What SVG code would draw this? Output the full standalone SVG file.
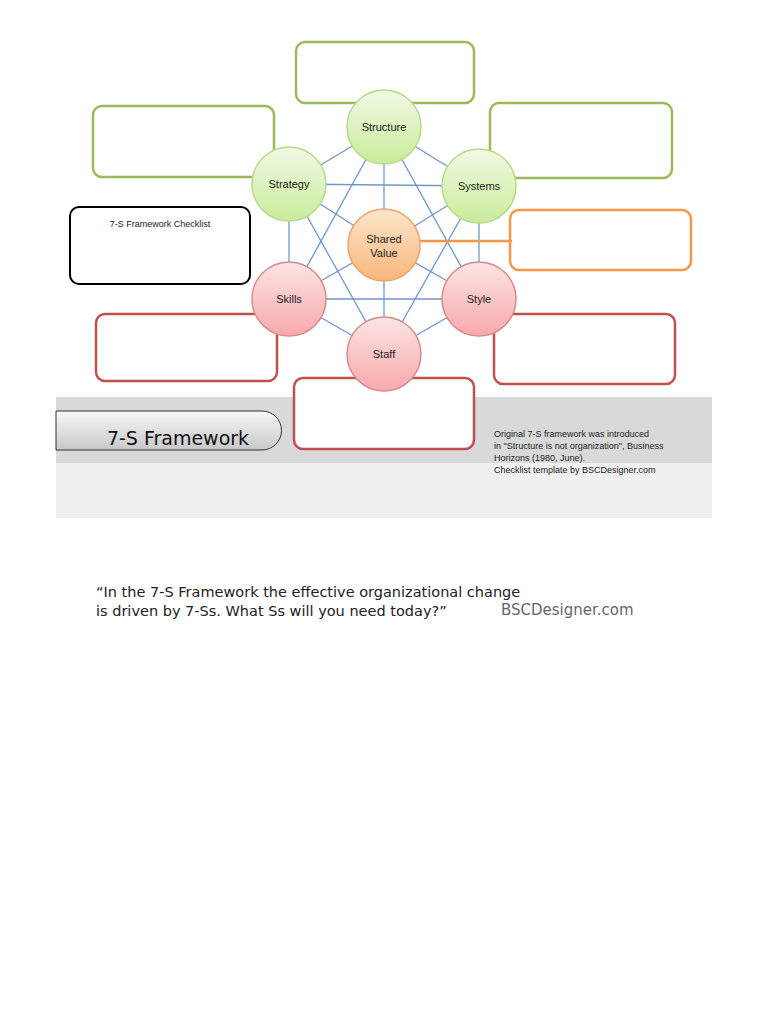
<svg xmlns="http://www.w3.org/2000/svg" width="768" height="1024" viewBox="0 0 768 1024">
<defs>
<linearGradient id="gg" x1="0" y1="0" x2="0" y2="1"><stop offset="0" stop-color="#f2f9e6"/><stop offset="1" stop-color="#c9ec9a"/></linearGradient>
<linearGradient id="gr" x1="0" y1="0" x2="0" y2="1"><stop offset="0" stop-color="#fde4e4"/><stop offset="1" stop-color="#f7a9ac"/></linearGradient>
<linearGradient id="go" x1="0" y1="0" x2="0" y2="1"><stop offset="0" stop-color="#fde5cc"/><stop offset="1" stop-color="#f8b77a"/></linearGradient>
<linearGradient id="gt" x1="0" y1="0" x2="0" y2="1"><stop offset="0" stop-color="#f8f8f8"/><stop offset="1" stop-color="#c8c8c8"/></linearGradient>
<style>
.bx{fill:#fff;stroke-width:2.5}
.g{stroke:#9bbb59}.r{stroke:#c0504d}.o{stroke:#f79646}
.cg{fill:url(#gg);stroke:#b9d98a;stroke-width:1.5}
.cr{fill:url(#gr);stroke:#d88a8a;stroke-width:1.5}
.co{fill:url(#go);stroke:#eba56a;stroke-width:1.5}
.lb{font-family:"Liberation Sans",Arial,sans-serif;font-size:11px;fill:#222;text-anchor:middle}
#conn line{stroke:#6f97cc;stroke-width:1.3}
</style>
</defs>
<rect width="768" height="1024" fill="#fff"/>
<rect x="56" y="397" width="656" height="66" fill="#d9d9d9"/>
<rect x="56" y="463" width="656" height="55" fill="#f0f0f0"/>
<g id="tab"><path d="M56 411 H262 A19 19 0 0 1 262 450 H56 Z" fill="url(#gt)" stroke="#333" stroke-width="1"/>
<text x="178" y="445" font-family="'DejaVu Sans',sans-serif" font-size="19" fill="#111" text-anchor="middle">7-S Framework</text></g>
<g id="boxes">
<rect class="bx g" x="296" y="42" width="178" height="61" rx="9"/>
<rect class="bx g" x="93" y="106" width="181" height="71" rx="9"/>
<rect class="bx g" x="490" y="103" width="182" height="75" rx="9"/>
<rect x="70" y="207" width="180" height="77" rx="9" fill="#fff" stroke="#000" stroke-width="2"/>
<rect class="bx o" x="510" y="210" width="181" height="60" rx="9"/>
<rect class="bx r" x="96" y="314" width="181" height="67" rx="9"/>
<rect class="bx r" x="494" y="314" width="181" height="70" rx="9"/>
<rect class="bx r" x="294" y="378" width="180" height="71" rx="9"/>
<text x="160" y="227" font-family="'Liberation Sans',Arial,sans-serif" font-size="9" fill="#222" text-anchor="middle">7-S Framework Checklist</text>
</g>
<g id="conn">
<line x1="384" y1="127" x2="289" y2="184"/><line x1="384" y1="127" x2="479" y2="186"/>
<line x1="289" y1="184" x2="479" y2="186"/><line x1="384" y1="127" x2="384" y2="245"/>
<line x1="384" y1="127" x2="289" y2="299"/><line x1="384" y1="127" x2="479" y2="299"/>
<line x1="289" y1="184" x2="384" y2="245"/><line x1="289" y1="184" x2="289" y2="299"/>
<line x1="289" y1="184" x2="384" y2="354"/><line x1="479" y1="186" x2="384" y2="245"/>
<line x1="479" y1="186" x2="479" y2="299"/><line x1="479" y1="186" x2="384" y2="354"/>
<line x1="384" y1="245" x2="289" y2="299"/><line x1="384" y1="245" x2="479" y2="299"/>
<line x1="384" y1="245" x2="384" y2="354"/><line x1="289" y1="299" x2="479" y2="299"/>
<line x1="289" y1="299" x2="384" y2="354"/><line x1="479" y1="299" x2="384" y2="354"/>
<line x1="384" y1="241" x2="512" y2="241" style="stroke:#f79646;stroke-width:2.5"/>
</g>
<g id="structure"><circle class="cg" cx="384" cy="127" r="37"/><text class="lb" x="384" y="131">Structure</text></g>
<g id="strategy"><circle class="cg" cx="289" cy="184" r="37"/><text class="lb" x="289" y="188">Strategy</text></g>
<g id="systems"><circle class="cg" cx="479" cy="186" r="37"/><text class="lb" x="479" y="190">Systems</text></g>
<g id="shared"><circle class="co" cx="384" cy="245" r="36"/><text class="lb" x="384" y="243">Shared</text><text class="lb" x="384" y="257">Value</text></g>
<g id="skills"><circle class="cr" cx="289" cy="299" r="37"/><text class="lb" x="289" y="303">Skills</text></g>
<g id="style"><circle class="cr" cx="479" cy="299" r="37"/><text class="lb" x="479" y="303">Style</text></g>
<g id="staff"><circle class="cr" cx="384" cy="354" r="37"/><text class="lb" x="384" y="358">Staff</text></g>
<g font-family="'Liberation Sans',Arial,sans-serif" font-size="9" fill="#222">
<text x="494" y="437">Original 7-S framework was introduced</text>
<text x="494" y="449">in "Structure is not organization", Business</text>
<text x="494" y="461">Horizons (1980, June).</text>
<text x="494" y="473">Checklist template by BSCDesigner.com</text>
</g>
<g font-family="'DejaVu Sans',sans-serif" font-size="14.5" fill="#222">
<text x="96" y="597">“In the 7-S Framework the effective organizational change</text>
<text x="96" y="616">is driven by 7-Ss. What Ss will you need today?”</text>
</g>
<text x="501" y="615" font-family="'DejaVu Sans',sans-serif" font-size="15" fill="#666">BSCDesigner.com</text>
</svg>
